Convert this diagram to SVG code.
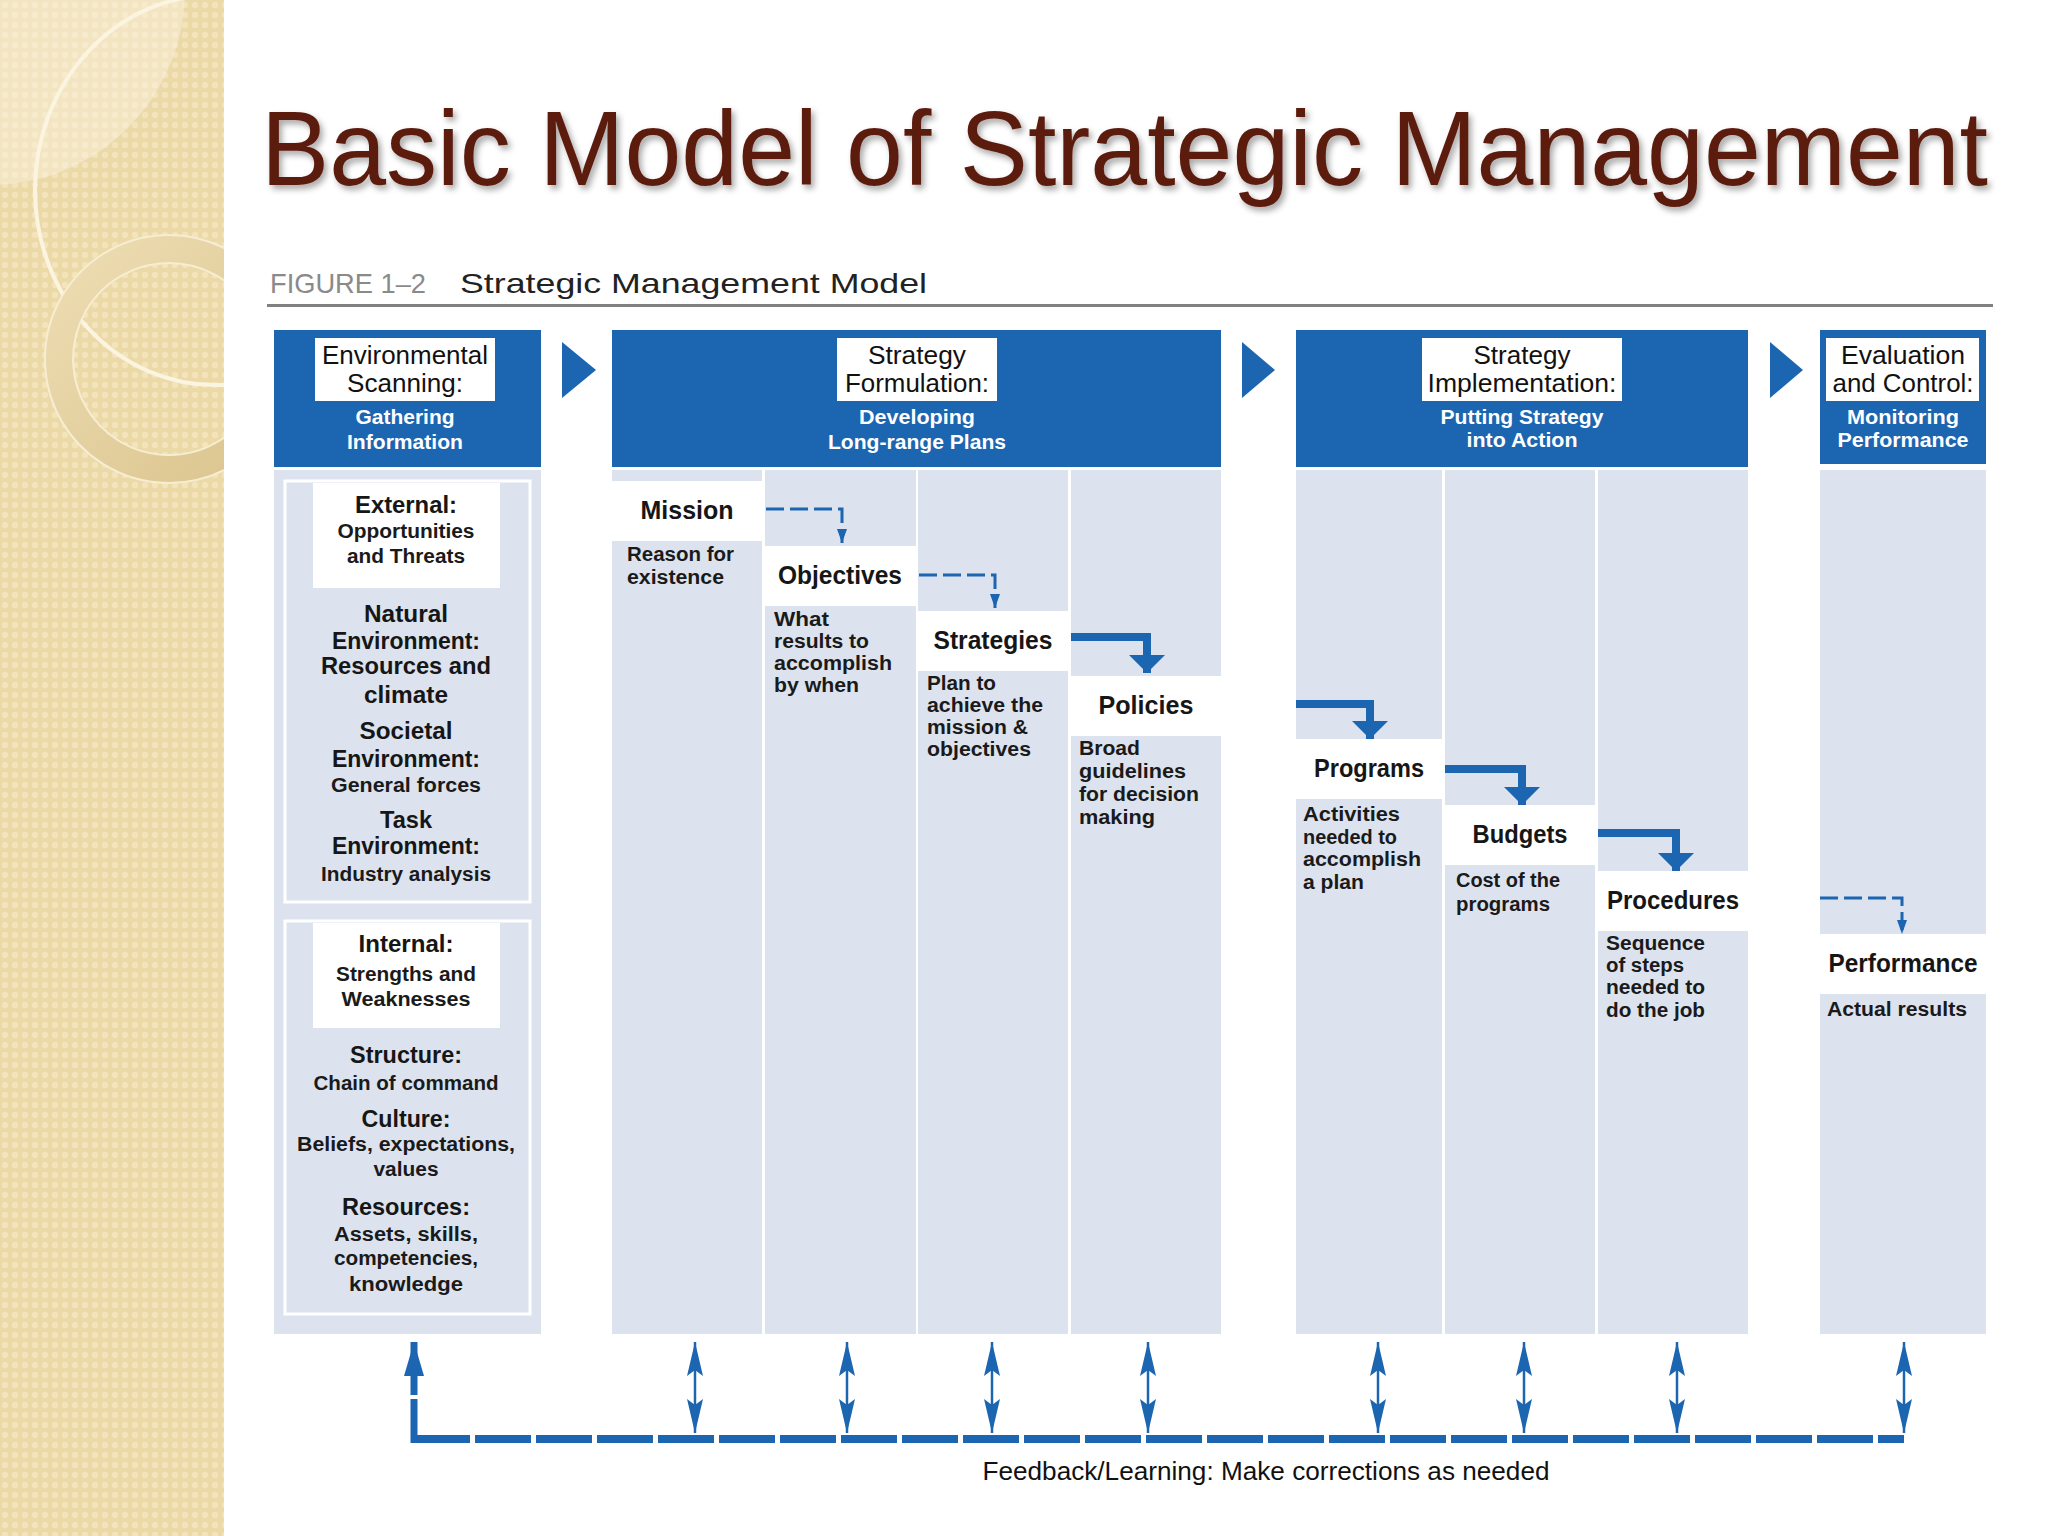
<svg xmlns="http://www.w3.org/2000/svg" width="2048" height="1536" viewBox="0 0 2048 1536">
<defs>
<style>
text{font-family:'Liberation Sans Narrow','Liberation Sans',Arial,sans-serif;}
.hb{fill:#1c65b1;}
.pn{fill:#dce3ee;}
.wb{fill:#ffffff;}
.hl{font-size:25px;fill:#111;text-anchor:middle;}
.st{font-size:21px;font-weight:bold;fill:#ffffff;text-anchor:middle;}
.bh{font-size:25px;font-weight:bold;fill:#161616;text-anchor:middle;}
.ds{font-size:20px;font-weight:bold;fill:#1a1a1a;}
.c1{font-size:24px;font-weight:bold;fill:#161616;text-anchor:middle;}
.c2{font-size:20px;font-weight:bold;fill:#1a1a1a;text-anchor:middle;}
.thick{fill:none;stroke:#1c65b1;stroke-width:8;}
.dash{fill:none;stroke:#1c65b1;stroke-width:3;stroke-dasharray:18 6;}
.fb{fill:none;stroke:#1c65b1;stroke-width:2.5;}
.tri{fill:#1c65b1;}
</style>
<marker id="big" markerUnits="userSpaceOnUse" viewBox="0 -18 18 36" refX="18" refY="0" markerWidth="18" markerHeight="36" orient="auto"><path d="M0,-18 L18,0 L0,18 z" fill="#1c65b1"/></marker>
<marker id="small" markerUnits="userSpaceOnUse" viewBox="0 -5 14 10" refX="14" refY="0" markerWidth="14" markerHeight="10" orient="auto"><path d="M0,-5 L14,0 L0,5 z" fill="#1c65b1"/></marker>
<marker id="fa" markerUnits="userSpaceOnUse" viewBox="0 -8 34 16" refX="34" refY="0" markerWidth="34" markerHeight="16" orient="auto-start-reverse"><path d="M0,-8 L34,0 L0,8 L6,0 z" fill="#1c65b1"/></marker>
<marker id="fa2" markerUnits="userSpaceOnUse" viewBox="0 -10 34 20" refX="34" refY="0" markerWidth="34" markerHeight="20" orient="auto"><path d="M0,-10 L34,0 L0,10 z" fill="#1c65b1"/></marker>
<pattern id="dots" width="10" height="10" patternUnits="userSpaceOnUse"><rect width="10" height="10" fill="#ecd9a8"/><rect x="2" y="2" width="6" height="6" rx="2" fill="#f3e4bc"/></pattern>
<linearGradient id="ring" x1="0" y1="0" x2="1" y2="1"><stop offset="0" stop-color="#efdfb6"/><stop offset="1" stop-color="#d9c28a"/></linearGradient>
<clipPath id="strip"><rect x="0" y="0" width="224" height="1536"/></clipPath>
<filter id="sh" x="-5%" y="-20%" width="110%" height="150%"><feDropShadow dx="3" dy="4" stdDeviation="3" flood-color="#000" flood-opacity="0.35"/></filter>
</defs>
<rect width="2048" height="1536" fill="#ffffff"/>
<g id="decor" clip-path="url(#strip)">
<rect x="0" y="0" width="224" height="1536" fill="url(#dots)"/>
<circle cx="-10" cy="-10" r="195" fill="#faf2dc" opacity="0.5"/>
<ellipse cx="215" cy="190" rx="180" ry="195" fill="none" stroke="#fbf4e0" stroke-width="4"/>
<path d="M169,235 A124,124 0 1,1 168.9,235 Z M169,263 A96,96 0 1,0 169.1,263 Z" fill="url(#ring)" fill-rule="evenodd" stroke="#f7edd2" stroke-width="2"/>
</g>
<g id="title">
<text x="261" y="185" font-size="105" fill="#5c1d11" filter="url(#sh)" textLength="1727" lengthAdjust="spacingAndGlyphs" style="font-family:'Liberation Sans',Arial,sans-serif">Basic Model of Strategic Management</text>
<text x="270" y="293" font-size="28" fill="#8a8a8a" textLength="156" lengthAdjust="spacingAndGlyphs">FIGURE 1–2</text>
<text x="460" y="293" font-size="28" fill="#222" textLength="467" lengthAdjust="spacingAndGlyphs">Strategic Management Model</text>
<rect x="267" y="304" width="1726" height="3" fill="#808080"/>
</g>
<g id="arrows-stage">
<polygon class="tri" points="562,342 596,370 562,398"/>
<polygon class="tri" points="1242,342 1275,370 1242,398"/>
<polygon class="tri" points="1770,342 1803,370 1770,398"/>
</g>
<g id="env-scanning">
<rect class="hb" x="274" y="330" width="267" height="137"/>
<rect class="wb" x="315" y="338" width="180" height="63"/>
<text class="hl" x="405" y="364" textLength="166" lengthAdjust="spacingAndGlyphs">Environmental</text>
<text class="hl" x="405" y="392" textLength="116" lengthAdjust="spacingAndGlyphs">Scanning:</text>
<text class="st" x="405" y="424" textLength="99" lengthAdjust="spacingAndGlyphs">Gathering</text>
<text class="st" x="405" y="449" textLength="116" lengthAdjust="spacingAndGlyphs">Information</text>
<rect class="pn" x="274" y="470" width="267" height="864"/>
<rect x="285" y="481" width="245" height="421" fill="none" stroke="#fff" stroke-width="3"/>
<rect class="wb" x="313" y="483" width="187" height="105"/>
<rect x="285" y="921" width="245" height="393" fill="none" stroke="#fff" stroke-width="3"/>
<rect class="wb" x="313" y="923" width="187" height="105"/>
<text class="c1" x="406" y="513" textLength="102" lengthAdjust="spacingAndGlyphs">External:</text>
<text class="c2" x="406" y="538" textLength="137" lengthAdjust="spacingAndGlyphs">Opportunities</text>
<text class="c2" x="406" y="563" textLength="118" lengthAdjust="spacingAndGlyphs">and Threats</text>
<text class="c1" x="406" y="622" textLength="84" lengthAdjust="spacingAndGlyphs">Natural</text>
<text class="c1" x="406" y="649" textLength="148" lengthAdjust="spacingAndGlyphs">Environment:</text>
<text class="c1" x="406" y="674" textLength="170" lengthAdjust="spacingAndGlyphs">Resources and</text>
<text class="c1" x="406" y="703" textLength="84" lengthAdjust="spacingAndGlyphs">climate</text>
<text class="c1" x="406" y="739" textLength="93" lengthAdjust="spacingAndGlyphs">Societal</text>
<text class="c1" x="406" y="767" textLength="148" lengthAdjust="spacingAndGlyphs">Environment:</text>
<text class="c2" x="406" y="792" textLength="150" lengthAdjust="spacingAndGlyphs">General forces</text>
<text class="c1" x="406" y="828" textLength="52" lengthAdjust="spacingAndGlyphs">Task</text>
<text class="c1" x="406" y="854" textLength="148" lengthAdjust="spacingAndGlyphs">Environment:</text>
<text class="c2" x="406" y="881" textLength="170" lengthAdjust="spacingAndGlyphs">Industry analysis</text>
<text class="c1" x="406" y="952" textLength="95" lengthAdjust="spacingAndGlyphs">Internal:</text>
<text class="c2" x="406" y="981" textLength="140" lengthAdjust="spacingAndGlyphs">Strengths and</text>
<text class="c2" x="406" y="1006" textLength="129" lengthAdjust="spacingAndGlyphs">Weaknesses</text>
<text class="c1" x="406" y="1063" textLength="112" lengthAdjust="spacingAndGlyphs">Structure:</text>
<text class="c2" x="406" y="1090" textLength="185" lengthAdjust="spacingAndGlyphs">Chain of command</text>
<text class="c1" x="406" y="1127" textLength="89" lengthAdjust="spacingAndGlyphs">Culture:</text>
<text class="c2" x="406" y="1151" textLength="218" lengthAdjust="spacingAndGlyphs">Beliefs, expectations,</text>
<text class="c2" x="406" y="1176" textLength="65" lengthAdjust="spacingAndGlyphs">values</text>
<text class="c1" x="406" y="1215" textLength="128" lengthAdjust="spacingAndGlyphs">Resources:</text>
<text class="c2" x="406" y="1241" textLength="144" lengthAdjust="spacingAndGlyphs">Assets, skills,</text>
<text class="c2" x="406" y="1265" textLength="144" lengthAdjust="spacingAndGlyphs">competencies,</text>
<text class="c2" x="406" y="1291" textLength="114" lengthAdjust="spacingAndGlyphs">knowledge</text>
</g>
<g id="strategy-formulation">
<rect class="hb" x="612" y="330" width="609" height="137"/>
<rect class="wb" x="837" y="338" width="160" height="63"/>
<text class="hl" x="917" y="364" textLength="98" lengthAdjust="spacingAndGlyphs">Strategy</text>
<text class="hl" x="917" y="392" textLength="144" lengthAdjust="spacingAndGlyphs">Formulation:</text>
<text class="st" x="917" y="424" textLength="116" lengthAdjust="spacingAndGlyphs">Developing</text>
<text class="st" x="917" y="449" textLength="178" lengthAdjust="spacingAndGlyphs">Long-range Plans</text>
<rect class="pn" x="612" y="470" width="150" height="864"/>
<rect class="pn" x="765" y="470" width="151" height="864"/>
<rect class="pn" x="918" y="470" width="150" height="864"/>
<rect class="pn" x="1071" y="470" width="150" height="864"/>
</g>
<g id="mission">
<rect class="wb" x="612" y="481" width="150" height="60"/>
<text class="bh" x="687" y="519" textLength="93" lengthAdjust="spacingAndGlyphs">Mission</text>
<text class="ds" x="627" y="561" textLength="107" lengthAdjust="spacingAndGlyphs">Reason for</text>
<text class="ds" x="627" y="584" textLength="97" lengthAdjust="spacingAndGlyphs">existence</text>
</g>
<g id="objectives">
<rect class="wb" x="765" y="546" width="151" height="60"/>
<text class="bh" x="840" y="584" textLength="124" lengthAdjust="spacingAndGlyphs">Objectives</text>
<text class="ds" x="774" y="626" textLength="55" lengthAdjust="spacingAndGlyphs">What</text>
<text class="ds" x="774" y="648" textLength="95" lengthAdjust="spacingAndGlyphs">results to</text>
<text class="ds" x="774" y="670" textLength="118" lengthAdjust="spacingAndGlyphs">accomplish</text>
<text class="ds" x="774" y="692" textLength="85" lengthAdjust="spacingAndGlyphs">by when</text>
</g>
<g id="strategies">
<rect class="wb" x="918" y="611" width="150" height="60"/>
<text class="bh" x="993" y="649" textLength="119" lengthAdjust="spacingAndGlyphs">Strategies</text>
<text class="ds" x="927" y="690" textLength="69" lengthAdjust="spacingAndGlyphs">Plan to</text>
<text class="ds" x="927" y="712" textLength="116" lengthAdjust="spacingAndGlyphs">achieve the</text>
<text class="ds" x="927" y="734" textLength="101" lengthAdjust="spacingAndGlyphs">mission &amp;</text>
<text class="ds" x="927" y="756" textLength="104" lengthAdjust="spacingAndGlyphs">objectives</text>
</g>
<g id="policies">
<rect class="wb" x="1071" y="676" width="150" height="60"/>
<text class="bh" x="1146" y="714" textLength="95" lengthAdjust="spacingAndGlyphs">Policies</text>
<text class="ds" x="1079" y="755" textLength="61" lengthAdjust="spacingAndGlyphs">Broad</text>
<text class="ds" x="1079" y="778" textLength="107" lengthAdjust="spacingAndGlyphs">guidelines</text>
<text class="ds" x="1079" y="801" textLength="120" lengthAdjust="spacingAndGlyphs">for decision</text>
<text class="ds" x="1079" y="824" textLength="76" lengthAdjust="spacingAndGlyphs">making</text>
</g>
<g id="strategy-implementation">
<rect class="hb" x="1296" y="330" width="452" height="137"/>
<rect class="wb" x="1422" y="338" width="200" height="63"/>
<text class="hl" x="1522" y="364" textLength="97" lengthAdjust="spacingAndGlyphs">Strategy</text>
<text class="hl" x="1522" y="392" textLength="189" lengthAdjust="spacingAndGlyphs">Implementation:</text>
<text class="st" x="1522" y="424" textLength="163" lengthAdjust="spacingAndGlyphs">Putting Strategy</text>
<text class="st" x="1522" y="447" textLength="111" lengthAdjust="spacingAndGlyphs">into Action</text>
<rect class="pn" x="1296" y="470" width="146" height="864"/>
<rect class="pn" x="1445" y="470" width="150" height="864"/>
<rect class="pn" x="1598" y="470" width="150" height="864"/>
</g>
<g id="programs">
<rect class="wb" x="1296" y="739" width="146" height="60"/>
<text class="bh" x="1369" y="777" textLength="110" lengthAdjust="spacingAndGlyphs">Programs</text>
<text class="ds" x="1303" y="821" textLength="97" lengthAdjust="spacingAndGlyphs">Activities</text>
<text class="ds" x="1303" y="844" textLength="94" lengthAdjust="spacingAndGlyphs">needed to</text>
<text class="ds" x="1303" y="866" textLength="118" lengthAdjust="spacingAndGlyphs">accomplish</text>
<text class="ds" x="1303" y="889" textLength="61" lengthAdjust="spacingAndGlyphs">a plan</text>
</g>
<g id="budgets">
<rect class="wb" x="1445" y="805" width="150" height="60"/>
<text class="bh" x="1520" y="843" textLength="95" lengthAdjust="spacingAndGlyphs">Budgets</text>
<text class="ds" x="1456" y="887" textLength="104" lengthAdjust="spacingAndGlyphs">Cost of the</text>
<text class="ds" x="1456" y="911" textLength="94" lengthAdjust="spacingAndGlyphs">programs</text>
</g>
<g id="procedures">
<rect class="wb" x="1598" y="871" width="150" height="60"/>
<text class="bh" x="1673" y="909" textLength="132" lengthAdjust="spacingAndGlyphs">Procedures</text>
<text class="ds" x="1606" y="950" textLength="99" lengthAdjust="spacingAndGlyphs">Sequence</text>
<text class="ds" x="1606" y="972" textLength="78" lengthAdjust="spacingAndGlyphs">of steps</text>
<text class="ds" x="1606" y="994" textLength="99" lengthAdjust="spacingAndGlyphs">needed to</text>
<text class="ds" x="1606" y="1017" textLength="99" lengthAdjust="spacingAndGlyphs">do the job</text>
</g>
<g id="evaluation-control">
<rect class="hb" x="1820" y="330" width="166" height="134"/>
<rect class="wb" x="1826" y="338" width="153" height="63"/>
<text class="hl" x="1903" y="364" textLength="124" lengthAdjust="spacingAndGlyphs">Evaluation</text>
<text class="hl" x="1903" y="392" textLength="141" lengthAdjust="spacingAndGlyphs">and Control:</text>
<text class="st" x="1903" y="424" textLength="112" lengthAdjust="spacingAndGlyphs">Monitoring</text>
<text class="st" x="1903" y="447" textLength="131" lengthAdjust="spacingAndGlyphs">Performance</text>
<rect class="pn" x="1820" y="470" width="166" height="864"/>
</g>
<g id="performance">
<rect class="wb" x="1820" y="934" width="166" height="60"/>
<text class="bh" x="1903" y="972" textLength="149" lengthAdjust="spacingAndGlyphs">Performance</text>
<text class="ds" x="1827" y="1016" textLength="140" lengthAdjust="spacingAndGlyphs">Actual results</text>
</g>
<g id="connectors">
<path class="dash" d="M766,509 H842 V543" marker-end="url(#small)"/>
<path class="dash" d="M919,575 H995 V608" marker-end="url(#small)"/>
<path class="thick" d="M1071,637 H1147 V673" marker-end="url(#big)"/>
<path class="thick" d="M1296,704 H1370 V739" marker-end="url(#big)"/>
<path class="thick" d="M1445,769 H1522 V805" marker-end="url(#big)"/>
<path class="thick" d="M1598,833 H1676 V871" marker-end="url(#big)"/>
<path class="dash" d="M1820,898 H1902 V934" marker-end="url(#small)"/>
<path class="fb" d="M695,1342 V1433" marker-start="url(#fa)" marker-end="url(#fa)"/>
<path class="fb" d="M847,1342 V1433" marker-start="url(#fa)" marker-end="url(#fa)"/>
<path class="fb" d="M992,1342 V1433" marker-start="url(#fa)" marker-end="url(#fa)"/>
<path class="fb" d="M1148,1342 V1433" marker-start="url(#fa)" marker-end="url(#fa)"/>
<path class="fb" d="M1378,1342 V1433" marker-start="url(#fa)" marker-end="url(#fa)"/>
<path class="fb" d="M1524,1342 V1433" marker-start="url(#fa)" marker-end="url(#fa)"/>
<path class="fb" d="M1677,1342 V1433" marker-start="url(#fa)" marker-end="url(#fa)"/>
<path class="fb" d="M1904,1342 V1433" marker-start="url(#fa)" marker-end="url(#fa)"/>
<path d="M414,1439 H1904" fill="none" stroke="#1c65b1" stroke-width="8" stroke-dasharray="56 5"/>
<path d="M414,1443 V1399 M414,1395 V1342" fill="none" stroke="#1c65b1" stroke-width="7" marker-end="url(#fa2)"/>
<text x="1266" y="1480" font-size="26" fill="#111" text-anchor="middle" textLength="567" lengthAdjust="spacingAndGlyphs">Feedback/Learning: Make corrections as needed</text>
</g>
</svg>
